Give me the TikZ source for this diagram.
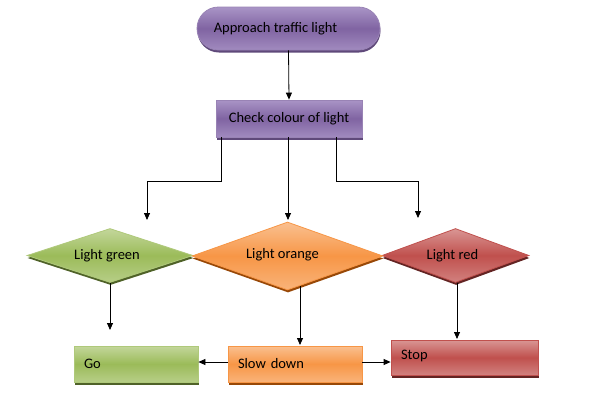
\documentclass[tikz,border=0pt]{standalone}
\usepackage{fontspec}
\setmainfont{Carlito}
\usetikzlibrary{shapes.geometric,shapes.misc,shadows,arrows.meta}
\definecolor{pmain}{HTML}{8064A2}\definecolor{plight}{HTML}{A994C6}\definecolor{pdark}{HTML}{5F497A}
\definecolor{gmain}{HTML}{9BBB59}\definecolor{glight}{HTML}{C3D69B}\definecolor{gdark}{HTML}{4F6228}
\definecolor{omain}{HTML}{F79646}\definecolor{olight}{HTML}{FAC090}\definecolor{odark}{HTML}{984807}
\definecolor{rmain}{HTML}{C0504D}\definecolor{rlight}{HTML}{D99694}\definecolor{rdark}{HTML}{632423}
\tikzset{
  base/.style={inner sep=0pt, font=\fontsize{14.5}{17}\selectfont, text=black, line width=0.8pt},
  purplefill/.style={draw=pmain!80, top color=plight, bottom color=plight!80!pmain, middle color=pmain,
     drop shadow={shadow xshift=0.5pt, shadow yshift=-2.5pt, fill=pdark, opacity=1}},
  greenfill/.style={draw=gmain!80!white, top color=glight, bottom color=glight!70!gmain, middle color=gmain,
     drop shadow={shadow xshift=0.5pt, shadow yshift=-2.5pt, fill=gdark, opacity=1}},
  orangefill/.style={draw=omain, top color=olight, bottom color=olight!70!omain, middle color=omain,
     drop shadow={shadow xshift=0.5pt, shadow yshift=-2.5pt, fill=odark, opacity=1}},
  redfill/.style={draw=rmain, top color=rlight, bottom color=rlight!70!rmain, middle color=rmain,
     drop shadow={shadow xshift=0.5pt, shadow yshift=-2.5pt, fill=rdark, opacity=1}},
  boxnode/.style={base, rectangle, align=left},
  dia/.style={base, diamond, aspect=3},
  arr/.style={line width=0.8pt, -{Triangle[length=7pt,width=6pt]}},
  ln/.style={line width=0.8pt}
}
\begin{document}
\begin{tikzpicture}[x=1pt,y=-1pt]
\useasboundingbox[fill=white] (0,0) rectangle (597,408);
\node[base, rounded rectangle, purplefill, minimum width=183pt, minimum height=43pt] (start) at (288.5,28.5) {Approach traffic light\hspace*{26pt}};
\node[boxnode, purplefill, minimum width=146pt, minimum height=37pt] (check) at (289,118.5) {Check colour of light};
\node[dia, greenfill, minimum width=166pt, minimum height=54pt] (green) at (110,255.5) {\raisebox{2pt}{Light green}\hspace*{6pt}};
\node[dia, redfill, minimum width=147pt, minimum height=54pt] (red) at (455.5,255.5) {\raisebox{2pt}{Light red}\hspace*{6pt}};
\node[dia, orangefill, minimum width=191pt, minimum height=68pt] (orange) at (287.5,256) {\raisebox{6pt}{Light orange}\hspace*{10pt}};
\node[boxnode, greenfill, minimum width=124pt, minimum height=36pt, text width=104pt] (go) at (136,364) {Go};
\node[boxnode, orangefill, minimum width=134pt, minimum height=36pt, text width=114pt] (slow) at (295,364) {Slow down};
\node[boxnode, redfill, minimum width=147pt, minimum height=35pt, text width=127pt] (stop) at (464.5,357.5) {\raisebox{5pt}{Stop}};
% connectors
\coordinate (gin) at (147,220);
\coordinate (oin) at (288,220);
\coordinate (rin) at (418,218);
\draw[arr] (start.south) -- (check.north);
\draw[arr] ([xshift=6pt]check.south west) |- (gin |- 0,181) -- (gin);
\draw[arr] (check.south -| oin) -- (oin);
\draw[arr] ([xshift=-26pt]check.south east) |- (rin |- 0,181) -- (rin);
\coordinate (goin) at (110,330);
\coordinate (slin) at (300,345);
\coordinate (stin) at (457,339);
\draw[arr] (green.south) -- (goin);
\draw[arr] (300,286) -- (slin);
\draw[arr] (red.south -| stin) -- (stin);
\draw[arr] (slow.west |- 0,362) -- (go.east |- 0,362);
\draw[arr] (slow.east |- 0,362) -- (stop.west |- 0,362);
\end{tikzpicture}
\end{document}
